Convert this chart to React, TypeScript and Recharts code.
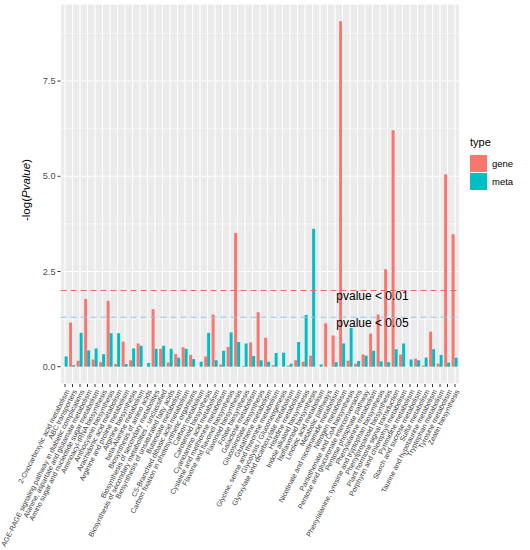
import React from 'react';
import { BarChart, Bar, XAxis, YAxis, CartesianGrid, ReferenceLine, ReferenceDot } from 'recharts';

const categories = [
  '2-Oxocarboxylic acid metabolism',
  'ABC transporters',
  'AGE-RAGE signaling pathway in diabetic complications',
  'Alanine, aspartate and glutamate metabolism',
  'Amino sugar and nucleotide sugar metabolism',
  'Aminoacyl-tRNA biosynthesis',
  'Anthocyanin biosynthesis',
  'Arachidonic acid metabolism',
  'Arginine and proline metabolism',
  'Arginine biosynthesis',
  'beta-Alanine metabolism',
  'Biosynthesis of amino acids',
  'Biosynthesis of secondary metabolites',
  'Biosynthesis of secondary metabolites - unclassified',
  'Biosynthesis of unsaturated fatty acids',
  'Butanoate metabolism',
  'C5-Branched dibasic acid metabolism',
  'Carbon fixation in photosynthetic organisms',
  'Carbon metabolism',
  'Carotenoid biosynthesis',
  'Cyanoamino acid metabolism',
  'Cysteine and methionine metabolism',
  'Flavone and flavonol biosynthesis',
  'Flavonoid biosynthesis',
  'Folate biosynthesis',
  'Galactose metabolism',
  'Glucosinolate biosynthesis',
  'Glutathione metabolism',
  'Glycine, serine and threonine metabolism',
  'Glycolysis / Gluconeogenesis',
  'Glyoxylate and dicarboxylate metabolism',
  'Histidine metabolism',
  'Indole alkaloid biosynthesis',
  'Isoflavonoid biosynthesis',
  'Linoleic acid metabolism',
  'Metabolic pathways',
  'Nicotinate and nicotinamide metabolism',
  'Nitrogen metabolism',
  'Pantothenate and CoA biosynthesis',
  'Pentose and glucuronate interconversions',
  'Pentose phosphate pathway',
  'Phenylalanine metabolism',
  'Phenylalanine, tyrosine and tryptophan biosynthesis',
  'Phenylpropanoid biosynthesis',
  'Plant hormone signal transduction',
  'Porphyrin and chlorophyll metabolism',
  'Pyrimidine metabolism',
  'Starch and sucrose metabolism',
  'Sulfur metabolism',
  'Taurine and hypotaurine metabolism',
  'Tryptophan metabolism',
  'Tyrosine metabolism',
  'Zeatin biosynthesis',
];

const geneValues = [
  0, 1.16, 0.16, 1.78, 0.19, 0.12, 1.73, 0.07, 0.66, 0.17,
  0.61, 0, 1.51, 0.47, 0.11, 0.33, 0.51, 0.31, 0, 0.27,
  1.37, 0.06, 0.52, 3.51, 0.02, 0.64, 1.43, 0.76, 0.04, 0,
  0.03, 0.17, 0.13, 0.29, 0, 1.14, 0.82, 9.07, 0.16, 0.08,
  0.32, 0.87, 1.37, 2.56, 6.21, 0.32, 0, 0.21, 0.03, 0.92,
  0.08, 5.05, 3.48,
];

const metaValues = [
  0.27, 0.04, 0.89, 0.43, 0.48, 0.33, 0.88, 0.88, 0.07, 0.48,
  0.55, 0.1, 0.47, 0.55, 0.47, 0.24, 0.47, 0.2, 0.13, 0.89,
  0.17, 0.42, 0.9, 0.65, 0.61, 0.28, 0.17, 0.13, 0.36, 0.37,
  0.08, 0.65, 1.36, 3.62, 0.06, 0, 0.12, 0.61, 1.02, 0.15,
  0.29, 0.42, 0.14, 0.12, 0.46, 0.61, 0.19, 0.17, 0.24, 0.46,
  0.31, 0.11, 0.24,
];

const seriesNames = ['gene', 'meta'];
const legendTitle = 'type';
const yTicks = [0, 2.5, 5, 7.5];
const yMinorTicks = [1.25, 3.75, 6.25, 8.75];
const thresholdValues = [2, 1.3];
const annotationLabels = ['pvalue < 0.01', 'pvalue < 0.05'];
const annotationYValues = [1.85, 1.15];
const annotationCategoryIndex = 41;

const data = categories.map((name, i) => ({
  name,
  gene: geneValues[i],
  meta: metaValues[i],
}));

const maxValue = Math.max(...geneValues, ...metaValues);
const expand = maxValue * 0.05;
const yDomain = [-expand, maxValue + expand];

const FONT = '"Liberation Sans", Arial, Helvetica, sans-serif';
const COLORS = ['#F8766D', '#00BFC4'];
const LINE_COLORS = ['#F5675F', '#94C8EE'];

const XTick = (props: any) => {
  const { x, y, payload } = props;
  return (
    <g transform={`translate(${x},${y})`}>
      <text
        x={0}
        y={0}
        dy="0.72em"
        textAnchor="end"
        transform="rotate(-63)"
        fontSize={7.1}
        fill="#404040"
        fontFamily={FONT}
      >
        {payload.value}
      </text>
    </g>
  );
};

const YTick = (props: any) => {
  const { x, y, payload } = props;
  return (
    <text x={x} y={y} textAnchor="end" dominantBaseline="central" fontSize={9.2} fill="#4D4D4D" fontFamily={FONT}>
      {Number(payload.value).toFixed(1)}
    </text>
  );
};

const YTitle = (props: any) => {
  const vb = props.viewBox || { x: 0, y: 0, width: 60, height: 380 };
  const cx = vb.x + 25.5;
  const cy = vb.y + vb.height / 2 - 4;
  return (
    <text
      transform={`translate(${cx},${cy}) rotate(-90)`}
      textAnchor="middle"
      dominantBaseline="central"
      fontSize={11.5}
      fill="#000"
      fontFamily={FONT}
    >
      -log(<tspan fontStyle="italic">Pvalue</tspan>)
    </text>
  );
};

const makeAnnotation = (text: string) => (props: any) => {
  const vb = props.viewBox || { x: 0, y: 0, width: 0, height: 0 };
  return (
    <text
      x={vb.x + (vb.width || 0) / 2}
      y={vb.y + (vb.height || 0) / 2}
      textAnchor="middle"
      dominantBaseline="central"
      fontSize={12}
      fill="#000"
      fontFamily={FONT}
    >
      {text}
    </text>
  );
};

export default function App() {
  return (
    <div style={{ position: 'absolute', left: 0, top: 0, width: 530, height: 550, background: '#fff' }}>
      <BarChart
        width={530}
        height={550}
        data={data}
        margin={{ top: 4, right: 70.5, bottom: 0, left: 0 }}
        barCategoryGap="5%"
        barGap={0}
      >
        <CartesianGrid fill="#EBEBEB" stroke="#FFFFFF" strokeWidth={1.07} />
        <CartesianGrid yAxisId="minor" vertical={false} stroke="#FFFFFF" strokeWidth={0.5} />
        <XAxis
          dataKey="name"
          interval={0}
          height={166}
          axisLine={false}
          tickLine={{ stroke: '#333333', strokeWidth: 1 }}
          tickSize={3}
          tickMargin={2}
          padding={{ left: 0.75, right: 0.75 }}
          tick={<XTick />}
        />
        <YAxis
          type="number"
          domain={yDomain}
          ticks={yTicks}
          width={60.5}
          axisLine={false}
          tickLine={{ stroke: '#333333', strokeWidth: 1 }}
          tickSize={3}
          tickMargin={2}
          tick={<YTick />}
          allowDataOverflow
          label={{ content: <YTitle /> } as any}
        />
        <YAxis
          yAxisId="minor"
          type="number"
          domain={yDomain}
          ticks={yMinorTicks}
          allowDataOverflow
          hide
        />
        <Bar dataKey="gene" name={seriesNames[0]} fill={COLORS[0]} isAnimationActive={false} />
        <Bar dataKey="meta" name={seriesNames[1]} fill={COLORS[1]} isAnimationActive={false} />
        {thresholdValues.map((v, i) => (
          <ReferenceLine
            key={`th-${i}`}
            y={v}
            stroke={LINE_COLORS[i]}
            strokeWidth={1.1}
            strokeDasharray="6 4"
          />
        ))}
        {annotationLabels.map((t, i) => (
          <ReferenceDot
            key={`an-${i}`}
            x={categories[annotationCategoryIndex]}
            y={annotationYValues[i]}
            r={0}
            fill="none"
            stroke="none"
            label={makeAnnotation(t) as any}
          />
        ))}
      </BarChart>
      <div style={{ position: 'absolute', left: 470, top: 135, fontFamily: FONT, fontSize: 11, color: '#000', lineHeight: '14px' }}>
        {legendTitle}
      </div>
      {seriesNames.map((s, i) => (
        <div key={s} style={{ position: 'absolute', left: 470, top: 155 + i * 17.5, height: 17, display: 'flex', alignItems: 'center' }}>
          <div style={{ width: 17, height: 17, background: COLORS[i] }} />
          <span style={{ marginLeft: 5, fontFamily: FONT, fontSize: 9.5, color: '#000' }}>{s}</span>
        </div>
      ))}
    </div>
  );
}
